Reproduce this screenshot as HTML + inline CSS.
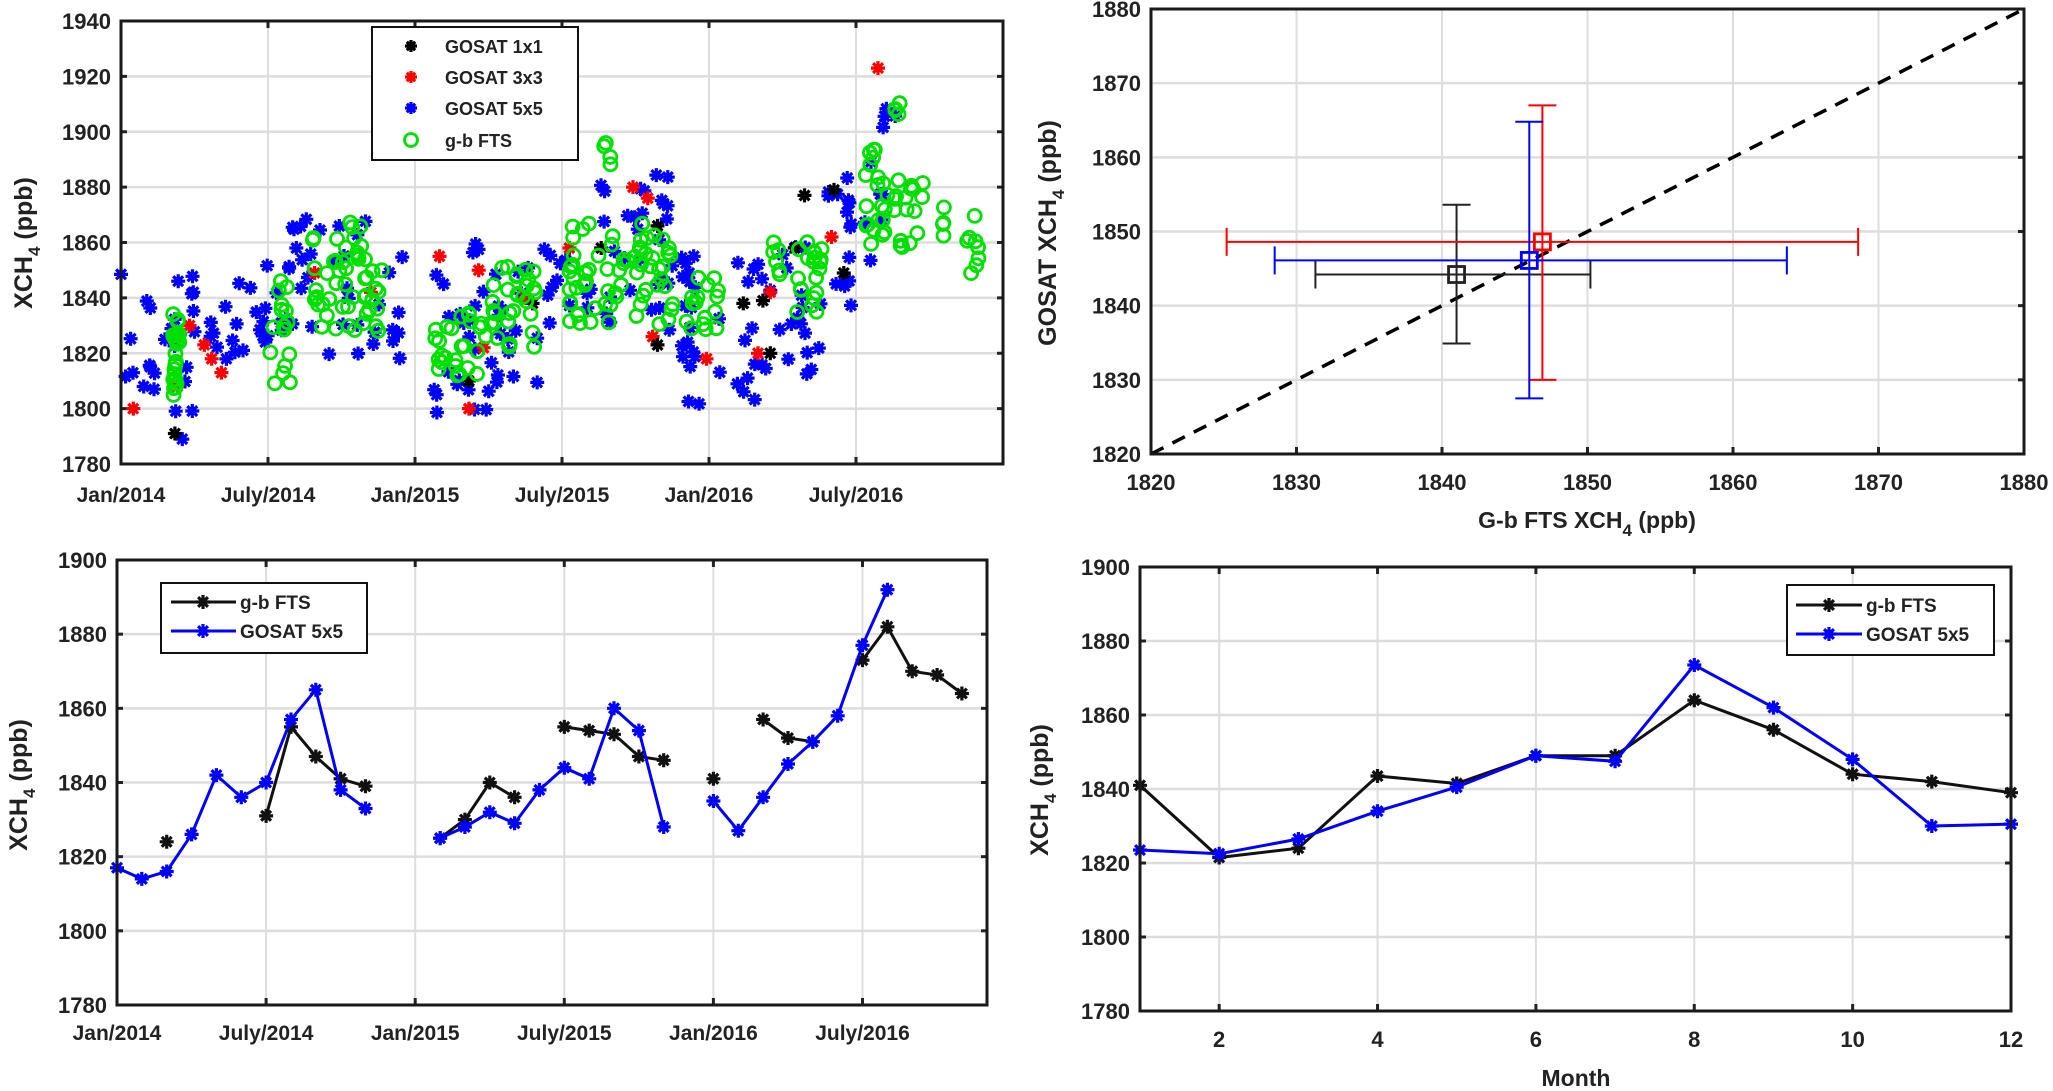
<!DOCTYPE html>
<html><head><meta charset="utf-8"><style>
html,body{margin:0;padding:0;background:#fff;width:2053px;height:1091px;overflow:hidden}
svg{display:block}
text{font-family:"Liberation Sans",Arial,sans-serif;font-weight:bold;fill:#222}
</style></head><body>
<svg id="s" width="2053" height="1091" xmlns="http://www.w3.org/2000/svg"></svg>
<script>
var S=document.getElementById('s'),out='';
function ln(x1,y1,x2,y2,c,w,extra){out+='<line x1="'+x1+'" y1="'+y1+'" x2="'+x2+'" y2="'+y2+'" stroke="'+c+'" stroke-width="'+w+'" '+(extra||'')+'/>';}
function tx(x,y,t,sz,anchor,extra){out+='<text x="'+x+'" y="'+y+'" font-size="'+sz+'" text-anchor="'+(anchor||'middle')+'" '+(extra||'')+'>'+t+'</text>';}
function star(x,y,c,r){r=r||6;var p='';for(var i=0;i<4;i++){var a=i*Math.PI/4;var dx=r*Math.cos(a),dy=r*Math.sin(a);p+='M'+(x-dx).toFixed(1)+' '+(y-dy).toFixed(1)+'L'+(x+dx).toFixed(1)+' '+(y+dy).toFixed(1);}out+='<path d="'+p+'" stroke="'+c+'" stroke-width="3.2"/>';}
function circ(x,y){out+='<circle cx="'+x.toFixed(1)+'" cy="'+y.toFixed(1)+'" r="6.5" fill="none" stroke="#00e000" stroke-width="2.8"/>';}
function frame(L,T,R,B){out+='<rect x="'+L+'" y="'+T+'" width="'+(R-L)+'" height="'+(B-T)+'" fill="none" stroke="#1a1a1a" stroke-width="3"/>';}
function ylab(x,y,main){out+='<text transform="translate('+x+','+y+') rotate(-90)" font-size="25" text-anchor="middle">'+main+'</text>';}
var seed=7;function rnd(){seed=(seed*16807)%2147483647;return seed/2147483647;}

// ---------- Panel 1 ----------
(function(){
var L=121,R=1003,T=21,B=464;
function X(t){return L+24.5*t;} function Y(v){return B-(v-1780)*(B-T)/160;}
for(var v=1800;v<1940;v+=20){ln(L,Y(v),R,Y(v),'#ddd',2.5);ln(R-6,Y(v),R,Y(v),'#222',3);ln(L,Y(v),L+6,Y(v),'#222',3);}
for(var k=1;k<=5;k++){ln(X(6*k),T,X(6*k),B,'#ddd',2);ln(X(6*k),B-7,X(6*k),B,'#222',3);ln(X(6*k),T,X(6*k),T+7,'#222',3);}
for(var v=1780;v<=1940;v+=20)tx(111,Y(v)+8,v,22,'end');
var labs=['Jan/2014','July/2014','Jan/2015','July/2015','Jan/2016','July/2016'];
for(var k=0;k<6;k++)tx(X(6*k),502,labs[k],21);
ylab(32,243,'XCH<tspan font-size="17" dy="8">4</tspan><tspan dy="-8"> (ppb)</tspan>');
var bl=[[0,3.2,1796,1853,26],[2.5,6,1812,1848,16],[5.8,7,1824,1854,12],[7,10,1818,1870,22],[10,11.5,1809,1855,10],[12.7,15,1798,1863,22],[15,17,1806,1852,18],[17,18.2,1828,1860,8],[18.3,22.5,1830,1885,30],[22,23.5,1818,1865,16],[23,26,1800,1858,18],[26,28.5,1812,1860,22],[28.5,30,1828,1885,16],[30.3,31.8,1852,1918,10]];
var gr=[[2.1,2.4,1803,1840,22],[6,6.9,1808,1848,16],[7.8,10,1828,1868,40],[9.9,10.7,1826,1850,12],[12.7,14.9,1812,1838,26],[15.1,17,1822,1852,30],[18.3,22.6,1830,1868,70],[19.7,20,1888,1900,4],[22.9,24.5,1828,1848,16],[26.6,26.9,1848,1862,6],[27.5,28.7,1832,1862,20],[30.4,31.2,1858,1894,16],[31.6,31.8,1903,1913,4],[31,32.8,1858,1884,22],[33.4,33.6,1860,1873,4],[34.4,35,1848,1873,8]];
var rd=[[0.5,1800],[2.8,1830],[3.4,1823],[3.7,1818],[4.1,1813],[7.9,1849],[10.2,1842],[2.3,1808],[13,1855],[14.2,1800],[14.6,1850],[14.8,1822],[18.3,1858],[20.9,1880],[21.5,1876],[21.7,1826],[23.9,1818],[26,1820],[26.5,1842],[29,1862],[30.9,1923],[16.5,1840]];
var bk=[[2.2,1791],[14.2,1810],[16.8,1838],[19.6,1858],[21.9,1866],[21.9,1823],[25.4,1838],[26.2,1839],[26.5,1820],[27.5,1858],[27.9,1877],[29.1,1879],[29.5,1849]];
bl.forEach(function(c){for(var i=0;i<c[4];i++)star(X(c[0]+rnd()*(c[1]-c[0])),Y(c[2]+rnd()*(c[3]-c[2])),'#0000ff',7);});
star(X(10.6),Y(1893),'#0000ff',7);star(X(2.5),Y(1789),'#0000ff',7);
rd.forEach(function(p){star(X(p[0]),Y(p[1]),'#ff0000',7);});
bk.forEach(function(p){star(X(p[0]),Y(p[1]),'#000',7);});
gr.forEach(function(c){for(var i=0;i<c[4];i++)circ(X(c[0]+rnd()*(c[1]-c[0])),Y(c[2]+rnd()*(c[3]-c[2])));});
frame(L,T,R,B);
out+='<rect x="372" y="27" width="206" height="133" fill="#fff" stroke="#111" stroke-width="2"/>';
star(411,46,'#000',6);star(411,77,'#ff0000',6);star(411,108,'#0000ff',6);circ(411,140);
tx(445,53,'GOSAT 1x1',18,'start');tx(445,84,'GOSAT 3x3',18,'start');tx(445,115,'GOSAT 5x5',18,'start');tx(445,147,'g-b FTS',18,'start');
})();

// ---------- Panel 2 ----------
(function(){
var L=1151,R=2024,T=9,B=454;
function X(v){return L+(v-1820)*(R-L)/60;} function Y(v){return B-(v-1820)*(B-T)/60;}
for(var v=1830;v<1880;v+=10){ln(L,Y(v),R,Y(v),'#ddd',2.5);ln(X(v),T,X(v),B,'#ddd',2);ln(R-6,Y(v),R,Y(v),'#222',3);ln(X(v),B-7,X(v),B,'#222',3);}
for(var v=1820;v<=1880;v+=10){tx(1141,Y(v)+8,v,22,'end');tx(X(v),490,v,22);}
ylab(1056,233,'GOSAT XCH<tspan font-size="17" dy="8">4</tspan><tspan dy="-8"> (ppb)</tspan>');
tx(1587,528,'G-b FTS XCH<tspan font-size="17" dy="8">4</tspan><tspan dy="-8"> (ppb)</tspan>',23);
ln(X(1820),Y(1820),X(1880),Y(1880),'#000',3.5,'stroke-dasharray="14,10"');
function eb(cx,cy,x1,x2,y1,y2,c){var cap=14;ln(X(x1),Y(cy),X(x2),Y(cy),c,2);ln(X(x1),Y(cy)-cap,X(x1),Y(cy)+cap,c,2);ln(X(x2),Y(cy)-cap,X(x2),Y(cy)+cap,c,2);
ln(X(cx),Y(y1),X(cx),Y(y2),c,2);ln(X(cx)-cap,Y(y1),X(cx)+cap,Y(y1),c,2);ln(X(cx)-cap,Y(y2),X(cx)+cap,Y(y2),c,2);
out+='<rect x="'+(X(cx)-8)+'" y="'+(Y(cy)-8)+'" width="16" height="16" fill="none" stroke="'+c+'" stroke-width="2.8"/>';}
eb(1841,1844.2,1831.3,1850.2,1834.9,1853.6,'#222');
eb(1846.9,1848.6,1825.2,1868.6,1830,1867,'#ff0000');
eb(1846,1846.1,1828.5,1863.7,1827.5,1864.8,'#0000ff');
frame(L,T,R,B);
})();

// ---------- Panel 3 ----------
(function(){
var L=117,R=987,T=560,B=1005;
function X(m){return L+24.85*m;} function Y(v){return B-(v-1780)*(B-T)/120;}
for(var v=1800;v<1900;v+=20){ln(L,Y(v),R,Y(v),'#ddd',2.5);ln(R-6,Y(v),R,Y(v),'#222',3);ln(L,Y(v),L+6,Y(v),'#222',3);}
for(var k=1;k<=5;k++){ln(X(6*k),T,X(6*k),B,'#ddd',2);ln(X(6*k),B-7,X(6*k),B,'#222',3);ln(X(6*k),T,X(6*k),T+7,'#222',3);}
for(var v=1780;v<=1900;v+=20)tx(107,Y(v)+8,v,22,'end');
var labs=['Jan/2014','July/2014','Jan/2015','July/2015','Jan/2016','July/2016'];
for(var k=0;k<6;k++)tx(X(6*k),1040,labs[k],21);
ylab(27,785,'XCH<tspan font-size="17" dy="8">4</tspan><tspan dy="-8"> (ppb)</tspan>');
function series(segs,c){segs.forEach(function(s){var p='';s.forEach(function(q,i){p+=(i?'L':'M')+X(q[0]).toFixed(1)+' '+Y(q[1]).toFixed(1);});out+='<path d="'+p+'" fill="none" stroke="'+c+'" stroke-width="3"/>';s.forEach(function(q){star(X(q[0]),Y(q[1]),c,7);});});}
series([[[2,1824]],[[6,1831],[7,1855],[8,1847],[9,1841],[10,1839]],[[13,1825],[14,1830],[15,1840],[16,1836]],[[18,1855],[19,1854],[20,1853],[21,1847],[22,1846]],[[24,1841]],[[26,1857],[27,1852],[28,1851]],[[30,1873],[31,1882],[32,1870],[33,1869],[34,1864]]],'#111');
series([[[0,1817],[1,1814],[2,1816],[3,1826],[4,1842],[5,1836],[6,1840],[7,1857],[8,1865],[9,1838],[10,1833]],[[13,1825],[14,1828],[15,1832],[16,1829],[17,1838],[18,1844],[19,1841],[20,1860],[21,1854],[22,1828]],[[24,1835],[25,1827],[26,1836],[27,1845],[28,1851],[29,1858],[30,1877],[31,1892]]],'#0000ff');
frame(L,T,R,B);
out+='<rect x="161" y="583" width="206" height="70" fill="#fff" stroke="#111" stroke-width="2"/>';
ln(171,602,236,602,'#111',3);star(203,602,'#111',7);ln(171,631,236,631,'#0000ff',3);star(203,631,'#0000ff',7);
tx(240,609,'g-b FTS',19,'start');tx(240,638,'GOSAT 5x5',19,'start');
})();

// ---------- Panel 4 ----------
(function(){
var L=1140,R=2011,T=567,B=1011;
function X(m){return L+(m-1)*(R-L)/11;} function Y(v){return B-(v-1780)*(B-T)/120;}
for(var v=1800;v<1900;v+=20){ln(L,Y(v),R,Y(v),'#ddd',2.5);ln(R-6,Y(v),R,Y(v),'#222',3);ln(L,Y(v),L+6,Y(v),'#222',3);}
for(var m=2;m<12;m+=2){ln(X(m),T,X(m),B,'#ddd',2);ln(X(m),B-7,X(m),B,'#222',3);ln(X(m),T,X(m),T+7,'#222',3);}
for(var v=1780;v<=1900;v+=20)tx(1130,Y(v)+8,v,22,'end');
for(var m=2;m<=12;m+=2)tx(X(m),1047,m,22);
tx(1576,1086,'Month',23);
ylab(1048,790,'XCH<tspan font-size="17" dy="8">4</tspan><tspan dy="-8"> (ppb)</tspan>');
function series(d,c){var p='';d.forEach(function(v,i){p+=(i?'L':'M')+X(i+1).toFixed(1)+' '+Y(v).toFixed(1);});out+='<path d="'+p+'" fill="none" stroke="'+c+'" stroke-width="3"/>';d.forEach(function(v,i){star(X(i+1),Y(v),c,7);});}
series([1841,1821.5,1824,1843.5,1841.5,1849,1849,1864,1856,1844,1842,1839],'#111');
series([1823.5,1822.5,1826.5,1834,1840.5,1849,1847.5,1873.5,1862,1848,1830,1830.5],'#0000ff');
frame(L,T,R,B);
out+='<rect x="1787" y="585" width="207" height="70" fill="#fff" stroke="#111" stroke-width="2"/>';
ln(1796,605,1862,605,'#111',3);star(1829,605,'#111',7);ln(1796,634,1862,634,'#0000ff',3);star(1829,634,'#0000ff',7);
tx(1866,612,'g-b FTS',19,'start');tx(1866,641,'GOSAT 5x5',19,'start');
})();
S.innerHTML=out;
</script>
</body></html>
